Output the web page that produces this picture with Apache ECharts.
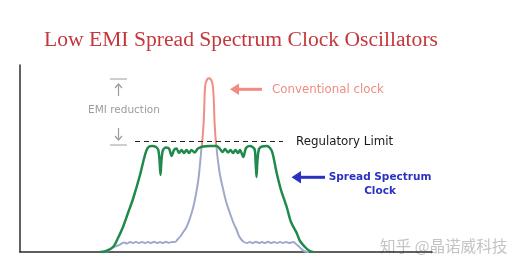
<!DOCTYPE html>
<html><head><meta charset="utf-8">
<script src="https://cdn.jsdelivr.net/npm/echarts@6/dist/echarts.min.js"></script>
<style>html,body{margin:0;padding:0;background:#fff}#c{width:523px;height:272px}</style>
</head><body><div id="c"></div>
<script>
// Spread spectrum clock (green) [frequency, amplitude]
const spreadSpectrum = [
 [80,0],[85,0.5],[93,5],[98,14],[103,25],[108,39],[113,53],[120,77],[125,97],[128,104.5],[132,106],[136,105],
 [138.3,102],[139.5,92],[140.5,77],[141.5,92],[143,102],[146,104.5],[149,103.5],[151.7,96],[154,102],[156.5,103.5],
 [159,99],[161.5,102],[164,99],[166.5,102],[169,99],[171.5,102],[174.5,99.5],[178,103.5],[183,105.5],[190,106],[196.7,106],
 [200,103],[202.5,100],[205,103],[208,99.5],[210.5,102],[213,99],[215.5,102],[218,99],[220,102],[223.3,95],[226,104],
 [230,106],[234.5,103],[235.5,92],[236.5,75],[237.5,92],[239,103],[242,105.5],[246.7,106],[250,104],[252.5,99],
 [256.7,79],[261,62],[266.7,45],[271,30],[276.7,19],[280,11],[285,5],[289,1.5],[293,0]
];
// Conventional clock spectrum base (blue-grey), left and right skirts
const conventionalLeft = [
 [81.5,0],[86,0.5],[90,2.5],[94,5],[98,6.5],[101,8],[104,9.5],[107,8.5],[110,10],[113,9],[116,10],
 [119,9],[122,10],[125,9],[128,10],[131,9],[134,10.2],[137,9],[140,10],[143,9],[146,10.2],[149,9.2],[152,10],[155,10],
 [158,13],[161,16.5],[164,21],[166.7,25.3],[170,34],[173.3,45],[176,58],[178.3,72],[179.8,86],[180.7,95.3],[181.5,105]
];
const conventionalRight = [
 [196.5,105],[197.5,95],[198.3,88.7],[200,77],[203.3,62],[206.5,49],[210,38.7],[213.5,29],[216.7,22],[219,16],[221.7,12],
 [224,10],[227,9],[230,10],[233,9],[236,10.2],[239,9],[242,10],[245,9],[248,10.2],[251,9],[254,10],[257,9],[260,10],
 [263,9],[266,10],[269,9],[273.3,10],[276,8],[279,5.5],[282,2.5],[285,0.5],[289,0]
];
// Conventional clock peak (pink)
const conventionalPeak = [
 [181.7,105],[183.5,127],[184.5,152],[185,164],[186,170],[187.5,173],[189,173.7],[190.5,173],[192,170],[193,164],
 [193.8,152],[194.7,127],[196.3,105]
];
const regulatoryLimit = 111;
const regulatoryRange = [115, 263];

const chart = echarts.init(document.getElementById('c'), null, {renderer:'canvas'});
const axisCommon = {
  type:'value', axisTick:{show:false}, axisLabel:{show:false}, splitLine:{show:false},
  axisLine:{show:true, onZero:false, lineStyle:{color:'#2b2b2b', width:1.5}}
};
const font = 'DejaVu Sans';
chart.setOption({
  animation:false,
  backgroundColor:'#fff',
  title:{text:'Low EMI Spread Spectrum Clock Oscillators', left:44, top:29, padding:0,
    textStyle:{fontFamily:'Liberation Serif', fontWeight:'normal', fontSize:21.6, color:'#c4373c'}},
  grid:{left:20, top:65, width:412, height:187},
  xAxis:Object.assign({min:0, max:412}, axisCommon),
  yAxis:Object.assign({min:0, max:187}, axisCommon),
  series:[
    {type:'line', data:conventionalLeft.concat(['-'], conventionalRight), showSymbol:false, smooth:0.4, z:2,
     lineStyle:{color:'#a0a8cc', width:2}},
    {type:'line', data:conventionalPeak, showSymbol:false, smooth:0.5, z:3,
     lineStyle:{color:'#ef8e82', width:2}},
    {type:'line', data:spreadSpectrum, showSymbol:false, smooth:0.3, z:4,
     lineStyle:{color:'#1f8a4c', width:2.5},
     markLine:{symbol:'none', silent:true, label:{show:false},
       lineStyle:{type:[5,4], color:'#222', width:1.2},
       data:[[{coord:[regulatoryRange[0], regulatoryLimit]},{coord:[regulatoryRange[1], regulatoryLimit]}]]}}
  ],
  graphic:[
    // EMI reduction marker
    {type:'line', shape:{x1:110,y1:79,x2:127,y2:79}, style:{stroke:'#9c9c9c', lineWidth:1}},
    {type:'line', shape:{x1:118.5,y1:84,x2:118.5,y2:96}, style:{stroke:'#9c9c9c', lineWidth:1.2}},
    {type:'polyline', shape:{points:[[115,88],[118.5,84],[122,88]]}, style:{stroke:'#9c9c9c', lineWidth:1.2, fill:null}},
    {type:'text', x:124, y:110, style:{text:'EMI reduction', font:'10.5px "'+font+'"', fill:'#9c9c9c', textAlign:'center', textVerticalAlign:'middle'}},
    {type:'line', shape:{x1:118.5,y1:128,x2:118.5,y2:140}, style:{stroke:'#9c9c9c', lineWidth:1.2}},
    {type:'polyline', shape:{points:[[115,136],[118.5,140],[122,136]]}, style:{stroke:'#9c9c9c', lineWidth:1.2, fill:null}},
    {type:'line', shape:{x1:110,y1:145,x2:127,y2:145}, style:{stroke:'#9c9c9c', lineWidth:1}},
    // Conventional clock label
    {type:'line', shape:{x1:237,y1:89.3,x2:262,y2:89.3}, style:{stroke:'#f08c80', lineWidth:3}},
    {type:'polygon', shape:{points:[[230,89.3],[239,83.5],[239,95]]}, style:{fill:'#f08c80'}},
    {type:'text', x:272, y:89.5, style:{text:'Conventional clock', font:'11.8px "'+font+'"', fill:'#f08c80', textVerticalAlign:'middle'}},
    // Regulatory limit label
    {type:'text', x:296, y:141.5, style:{text:'Regulatory Limit', font:'11.8px "'+font+'"', fill:'#1a1a1a', textVerticalAlign:'middle'}},
    // Spread spectrum label
    {type:'line', shape:{x1:300,y1:177.3,x2:325,y2:177.3}, style:{stroke:'#2a32c2', lineWidth:3}},
    {type:'polygon', shape:{points:[[291.5,177.3],[301,171],[301,183.6]]}, style:{fill:'#2a32c2'}},
    {type:'text', x:380, y:176.8, style:{text:'Spread Spectrum', font:'bold 10.5px "'+font+'"', fill:'#2a32c2', textAlign:'center', textVerticalAlign:'middle'}},
    {type:'text', x:380, y:190.8, style:{text:'Clock', font:'bold 10.5px "'+font+'"', fill:'#2a32c2', textAlign:'center', textVerticalAlign:'middle'}},
    // watermark
    {type:'text', x:380, y:246, style:{text:'知乎 @晶诺威科技', font:'15.6px "Noto Sans CJK SC"', fill:'#c4c4c4', textVerticalAlign:'middle'}}
  ]
});
</script></body></html>
